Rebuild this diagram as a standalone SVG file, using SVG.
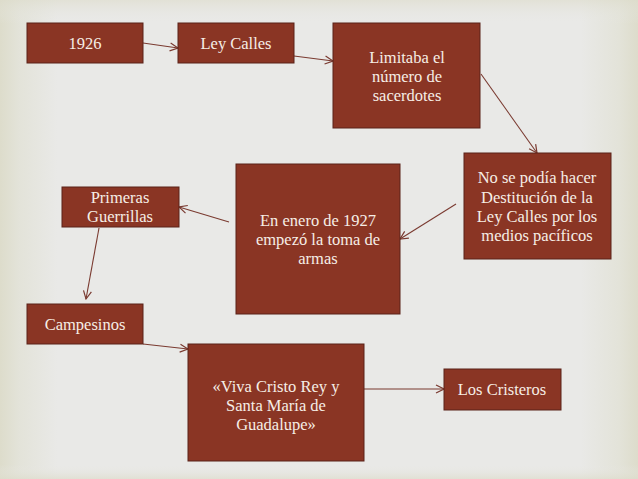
<svg xmlns="http://www.w3.org/2000/svg" width="638" height="479" viewBox="0 0 638 479">
<defs>
<linearGradient id="bgH" x1="0" y1="0" x2="1" y2="0">
<stop offset="0" stop-color="#dddccb"/>
<stop offset="0.03" stop-color="#e3e3d9"/>
<stop offset="0.09" stop-color="#e9e9e7"/>
<stop offset="0.91" stop-color="#e9e9e7"/>
<stop offset="0.97" stop-color="#e3e3d9"/>
<stop offset="1" stop-color="#dddccb"/>
</linearGradient>
<linearGradient id="bgV" x1="0" y1="0" x2="0" y2="1">
<stop offset="0" stop-color="#dddccb" stop-opacity="0.6"/>
<stop offset="0.05" stop-color="#e9e9e7" stop-opacity="0"/>
<stop offset="0.97" stop-color="#e9e9e7" stop-opacity="0"/>
<stop offset="1" stop-color="#dddccb" stop-opacity="0.7"/>
</linearGradient>
<marker id="arr" viewBox="0 0 10 10" refX="9" refY="5" markerWidth="10" markerHeight="10" markerUnits="userSpaceOnUse" orient="auto">
<path d="M1,1 L9,5 L1,9" fill="none" stroke="#7a3a30" stroke-width="1.2"/>
</marker>
</defs>
<style>
.box{fill:#8a3524;stroke:#5a2218;stroke-width:1}
.t{font-family:"Liberation Serif","Tinos","Times New Roman","DejaVu Serif",serif;font-size:16.5px;fill:#f6eee6;text-anchor:middle}
.c{fill:none;stroke:#7a3a30;stroke-width:1.1;marker-end:url(#arr)}
</style>
<rect width="638" height="479" fill="url(#bgH)"/>
<rect width="638" height="479" fill="url(#bgV)"/>
<g id="connectors">
<line class="c" x1="143" y1="43" x2="178" y2="48"/>
<line class="c" x1="294" y1="56" x2="333" y2="61"/>
<line class="c" x1="481" y1="74" x2="537" y2="153"/>
<line class="c" x1="456" y1="204" x2="400" y2="239"/>
<line class="c" x1="229" y1="222" x2="179" y2="207"/>
<line class="c" x1="99" y1="228" x2="86" y2="299"/>
<line class="c" x1="143" y1="344" x2="188" y2="349"/>
<line class="c" x1="364" y1="389" x2="444" y2="389"/>
</g>
<g id="n1926"><rect class="box" x="27" y="23" width="116" height="40"/><text class="t" x="85" y="49">1926</text></g>
<g id="leycalles"><rect class="box" x="178" y="23" width="116" height="40"/><text class="t" x="236" y="49">Ley Calles</text></g>
<g id="limitaba"><rect class="box" x="333" y="23" width="147" height="105"/><text class="t" x="407" y="63">Limitaba el</text><text class="t" x="407" y="82">número de</text><text class="t" x="407" y="101">sacerdotes</text></g>
<g id="nosepodia"><rect class="box" x="464" y="153" width="147" height="106"/><text class="t" x="537" y="183">No se podía hacer</text><text class="t" x="537" y="202.5">Destitución de la</text><text class="t" x="537" y="222">Ley Calles por los</text><text class="t" x="537" y="241">medios pacíficos</text></g>
<g id="enenero"><rect class="box" x="236" y="164" width="164" height="150"/><text class="t" x="318" y="226">En enero de 1927</text><text class="t" x="318" y="245">empezó la toma de</text><text class="t" x="318" y="264">armas</text></g>
<g id="primeras"><rect class="box" x="62" y="187" width="117" height="40"/><text class="t" x="120" y="203">Primeras</text><text class="t" x="120" y="221.5">Guerrillas</text></g>
<g id="campesinos"><rect class="box" x="27" y="304" width="116" height="40"/><text class="t" x="85" y="330">Campesinos</text></g>
<g id="viva"><rect class="box" x="188" y="344" width="176" height="117"/><text class="t" x="276" y="392">«Viva Cristo Rey y</text><text class="t" x="276" y="411">Santa María de</text><text class="t" x="276" y="430">Guadalupe»</text></g>
<g id="cristeros"><rect class="box" x="444" y="369" width="117" height="41"/><text class="t" x="502" y="395">Los Cristeros</text></g>
</svg>
